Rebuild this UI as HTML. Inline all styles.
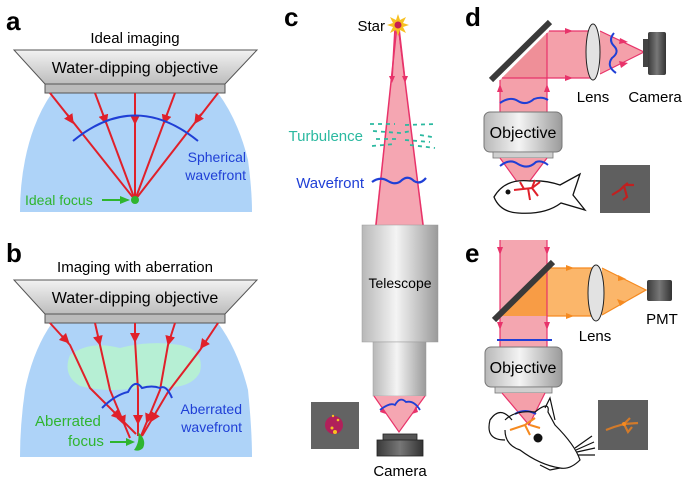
<!DOCTYPE html>
<html><head><meta charset="utf-8"><style>
html,body{margin:0;padding:0;background:#fff;}
svg{display:block;font-family:"Liberation Sans",Arial,sans-serif;}
</style></head><body>
<svg width="685" height="480" viewBox="0 0 685 480" xmlns="http://www.w3.org/2000/svg">
<defs>
<linearGradient id="obj" x1="0" y1="0" x2="0" y2="1"><stop offset="0" stop-color="#f2f2f2"/><stop offset="1" stop-color="#bdbdbd"/></linearGradient>
<linearGradient id="tube" x1="0" y1="0" x2="1" y2="0"><stop offset="0" stop-color="#b8b8b8"/><stop offset="0.45" stop-color="#f4f4f4"/><stop offset="1" stop-color="#9a9a9a"/></linearGradient>
<linearGradient id="cam" x1="0" y1="0" x2="1" y2="0"><stop offset="0" stop-color="#3a3a3a"/><stop offset="0.5" stop-color="#777"/><stop offset="1" stop-color="#333"/></linearGradient>
<marker id="ar" viewBox="0 0 10 10" refX="5" refY="5" markerWidth="5" markerHeight="5" orient="auto"><path d="M0,0 L10,5 L0,10z" fill="#e0202a"/></marker>
</defs>

<!-- Panel a -->
<text x="6" y="30" font-size="26" font-weight="bold">a</text>
<text x="135" y="43" font-size="15" text-anchor="middle">Ideal imaging</text>
<path d="M52,93 L218,93 Q238,120 248,160 Q252,190 252,212 L20,212 Q20,185 25,160 Q33,120 52,93z" fill="#aed3f8"/>
<path d="M14,50 L257,50 L225,84 L45,84z" fill="url(#obj)" stroke="#555" stroke-width="1"/>
<rect x="45" y="84" width="180" height="9" fill="#bbb" stroke="#555" stroke-width="1"/>
<text x="135" y="73" font-size="16" text-anchor="middle">Water-dipping objective</text>
<g stroke="#e0202a" stroke-width="2" fill="none">
<path d="M50,93 L135,200"/><path d="M95,93 L135,200"/><path d="M135,93 L135,200"/><path d="M175,93 L135,200"/><path d="M218,93 L135,200"/>
<path d="M67,114 L71,120" marker-end="url(#ar)"/>
<path d="M103,114 L105,120" marker-end="url(#ar)"/>
<path d="M135,114 L135,120" marker-end="url(#ar)"/>
<path d="M167,114 L165,120" marker-end="url(#ar)"/>
<path d="M201,114 L197,120" marker-end="url(#ar)"/>
</g>
<path d="M73,141 Q135,90 198,141" stroke="#1f3fd6" stroke-width="2" fill="none"/>
<text x="246" y="162" font-size="14" fill="#1f3fd6" text-anchor="end">Spherical</text>
<text x="246" y="180" font-size="14" fill="#1f3fd6" text-anchor="end">wavefront</text>
<text x="25" y="205" font-size="14" fill="#2fb52f">Ideal focus</text>
<path d="M102,200 L122,200" stroke="#2fb52f" stroke-width="2"/><path d="M120,196 L130,200 L120,204z" fill="#2fb52f"/>
<circle cx="135" cy="200" r="4" fill="#2fb52f"/>

<!-- Panel b -->
<text x="6" y="262" font-size="26" font-weight="bold">b</text>
<text x="135" y="272" font-size="15" text-anchor="middle">Imaging with aberration</text>
<path d="M52,323 L218,323 Q238,350 248,390 Q252,430 252,457 L20,457 Q20,425 25,390 Q33,350 52,323z" fill="#aed3f8"/>
<path d="M70,355 Q90,340 120,348 Q150,340 180,345 Q205,350 200,372 Q190,392 150,386 Q110,394 80,386 Q62,375 70,355z" fill="#b6efd4"/>
<path d="M14,280 L257,280 L225,314 L45,314z" fill="url(#obj)" stroke="#555" stroke-width="1"/>
<rect x="45" y="314" width="180" height="9" fill="#bbb" stroke="#555" stroke-width="1"/>
<text x="135" y="303" font-size="16" text-anchor="middle">Water-dipping objective</text>
<g stroke="#e0202a" stroke-width="2" fill="none">
<path d="M50,323 L70,345 L90,388 L136,434"/>
<path d="M95,323 L100,345 L110,390 L130,438"/>
<path d="M135,323 L135,340 L138,390 L138,436"/>
<path d="M175,323 L168,345 L160,390 L141,436"/>
<path d="M218,323 L200,350 L168,392 L142,436"/>
<path d="M62,336 L66,340" marker-end="url(#ar)"/>
<path d="M98,337 L99,341" marker-end="url(#ar)"/>
<path d="M135,333 L135,338" marker-end="url(#ar)"/>
<path d="M170,337 L169,341" marker-end="url(#ar)"/>
<path d="M206,341 L203,345" marker-end="url(#ar)"/>
<path d="M114,412 L118,416" marker-end="url(#ar)"/>
<path d="M121,416 L123,421" marker-end="url(#ar)"/>
<path d="M138,414 L138,420" marker-end="url(#ar)"/>
<path d="M150,414 L148,419" marker-end="url(#ar)"/>
<path d="M156,413 L153,418" marker-end="url(#ar)"/>
</g>
<path d="M102,408 Q115,395 128,392 Q135,378 142,388 Q152,385 160,388 Q166,384 172,398" stroke="#1f3fd6" stroke-width="2" fill="none"/>
<text x="242" y="414" font-size="14" fill="#1f3fd6" text-anchor="end">Aberrated</text>
<text x="242" y="432" font-size="14" fill="#1f3fd6" text-anchor="end">wavefront</text>
<text x="35" y="426" font-size="15" fill="#2fb52f">Aberrated</text>
<text x="68" y="446" font-size="15" fill="#2fb52f">focus</text>
<path d="M110,442 L128,442" stroke="#2fb52f" stroke-width="2"/><path d="M126,438 L135,442 L126,446z" fill="#2fb52f"/>
<path d="M138,432 Q147,440 143,448 Q139,452 134,450 Q140,442 138,432z" fill="#2fb52f"/>

<!-- Panel c -->
<text x="284" y="26" font-size="26" font-weight="bold">c</text>
<text x="385" y="31" font-size="15" text-anchor="end">Star</text>
<path d="M397,25 L375,225 L424,225z" fill="#f5a6b2"/>
<path d="M397,25 L376,225 M398,25 L423,225" stroke="#e8336a" stroke-width="1.5"/>
<path d="M395,28 L392,80 M399,28 L405,80" stroke="#e8336a" stroke-width="1.5"/>
<path d="M389,76 L395,76 L392,83z M402,76 L408,76 L405,83z" fill="#e8336a"/>
<path d="M398,14 L400,20 L406,17 L403,23 L409,25 L403,27 L406,33 L400,30 L398,36 L396,30 L390,33 L393,27 L387,25 L393,23 L390,17 L396,20z" fill="#f7c020"/>
<circle cx="398" cy="25" r="3.5" fill="#c81e50"/>
<g stroke="#2bb9a0" stroke-width="1.8" stroke-dasharray="4,4" fill="none">
<path d="M370,124 L395,124 M405,125 L437,124"/>
<path d="M373,131 L400,133 L412,131 M420,135 L432,137"/>
<path d="M376,139 L398,139 M405,140 L430,142"/>
<path d="M372,146 L395,144 M410,145 L435,148"/>
</g>
<text x="363" y="141" font-size="15" fill="#2bb9a0" text-anchor="end">Turbulence</text>
<text x="364" y="188" font-size="15" fill="#1f3fd6" text-anchor="end">Wavefront</text>
<path d="M372,182 Q380,176 388,181 Q396,186 402,180 Q408,175 414,181 Q420,185 426,178" stroke="#1f3fd6" stroke-width="2.2" fill="none"/>
<rect x="362" y="225" width="76" height="117" fill="url(#tube)" stroke="#999" stroke-width="0.5"/>
<text x="400" y="288" font-size="14" text-anchor="middle">Telescope</text>
<rect x="373" y="342" width="53" height="54" fill="url(#tube)" stroke="#999" stroke-width="0.5"/>
<path d="M374,396 L425,396 L399,432z" fill="#f5a6b2"/>
<path d="M374,396 L399,432 L425,396" stroke="#e8336a" stroke-width="1.2" fill="none"/>
<path d="M380,412 L386,414 L382,406z M418,412 L412,414 L416,406z" fill="#e8336a"/>
<path d="M380,410 Q390,402 395,405 Q400,396 406,402 Q414,400 420,410" stroke="#1f3fd6" stroke-width="1.8" fill="none"/>
<rect x="383" y="434" width="34" height="7" fill="#555" stroke="#222" stroke-width="0.8"/>
<rect x="377" y="440" width="46" height="16" fill="url(#cam)" stroke="#222" stroke-width="0.8"/>
<text x="400" y="476" font-size="15" text-anchor="middle">Camera</text>
<rect x="311" y="402" width="48" height="47" fill="#636363"/>
<circle cx="334" cy="425" r="9" fill="#b0205a"/>
<circle cx="332" cy="428" r="1.5" fill="#f7c020"/><circle cx="338" cy="420" r="1.3" fill="#f7c020"/><circle cx="335" cy="432" r="2" fill="#f7c020"/><circle cx="333" cy="416" r="1.2" fill="#f7c020"/>

<!-- Panel d -->
<text x="465" y="26" font-size="26" font-weight="bold">d</text>
<path d="M500,80 L547,33 L547,140 L500,140z" fill="#f4a0aa"/>
<path d="M549,31 L590,31 L590,78 L502,78z" fill="#f4a0aa"/>
<path d="M547,33 L547,78 L502,78z" fill="#ec8890" opacity="0.7"/>
<path d="M600,31 L644,52 L600,74z" fill="#f4a0aa"/>
<g stroke="#e8336a" stroke-width="1.2" fill="none">
<path d="M500,140 L500,80 M502,78 L590,78"/><path d="M547,140 L547,33 M549,31 L590,31"/>
<path d="M600,31 L644,52 L600,74"/>
</g>
<path d="M497,92 L500,84 L503,92z M544,92 L547,84 L550,92z M565,28 L573,31 L565,34z M565,75 L573,78 L565,81z M620,38 L628,42 L619,44z M619,61 L628,63 L621,68z" fill="#e8336a"/>
<path d="M491,80 L550,22" stroke="#3a3a3a" stroke-width="6"/>
<ellipse cx="593" cy="52" rx="7" ry="28" fill="#e2e2e2" stroke="#222" stroke-width="1"/>
<path d="M614,33 Q608,40 614,46 Q620,52 612,58 Q606,66 616,73" stroke="#1f3fd6" stroke-width="2" fill="none"/>
<rect x="643" y="39" width="6" height="28" fill="#444"/>
<rect x="648" y="32" width="18" height="43" rx="2" fill="url(#cam)"/>
<text x="593" y="102" font-size="15" text-anchor="middle">Lens</text>
<text x="655" y="102" font-size="15" text-anchor="middle">Camera</text>
<path d="M500,103 Q510,96 518,101 Q526,106 534,99 Q542,96 548,100" stroke="#1f3fd6" stroke-width="2" fill="none"/>
<rect x="484" y="112" width="78" height="40" rx="6" fill="url(#tube)" stroke="#777" stroke-width="1"/>
<text x="523" y="138" font-size="16" text-anchor="middle">Objective</text>
<rect x="493" y="152" width="60" height="6" fill="#cfcfcf" stroke="#777" stroke-width="0.8"/>
<path d="M500,158 L547,158 L523,190z" fill="#f4a0aa"/>
<path d="M500,158 L523,190 L547,158" stroke="#e8336a" stroke-width="1.2" fill="none"/>
<path d="M500,166 Q510,158 518,164 Q528,170 536,162 Q542,160 548,165" stroke="#1f3fd6" stroke-width="2" fill="none"/>
<path d="M494,197 Q505,178 530,181 Q545,180 560,185 L580,174 L573,195 L585,210 L561,203 Q545,215 518,213 Q500,212 494,197z" fill="#fff" stroke="#111" stroke-width="1.3"/>
<circle cx="508" cy="192" r="2.5" fill="#111"/>
<g stroke="#e0202a" stroke-width="2" fill="none"><path d="M514,190 L532,188 L540,182 M528,188 L530,200 M532,188 L538,196 M524,189 L520,182 M532,188 L535,180"/></g>
<rect x="600" y="165" width="50" height="48" fill="#5f5f5f"/>
<path d="M612,195 L620,190 L624,186 L628,183 M624,186 L627,197 L623,200 M625,185 L634,185" stroke="#c02020" stroke-width="2.2" fill="none"/>

<!-- Panel e -->
<text x="465" y="262" font-size="26" font-weight="bold">e</text>
<rect x="500" y="240" width="47" height="107" fill="#f4a6b0"/>
<path d="M548,268 L595,268 L595,316 L500,316 L500,316z" fill="#fbb66a"/>
<path d="M547,268 L547,316 L500,316z" fill="#f7963c" opacity="0.8"/>
<path d="M602,268 L646,290 L602,315z" fill="#fbb66a"/>
<g stroke="#f58a20" stroke-width="1.2" fill="none"><path d="M547,268 L595,268 M547,316 L595,316 M602,268 L646,290 L602,315"/></g>
<g stroke="#e8336a" stroke-width="1.2"><path d="M500,240 L500,347 M547,240 L547,347"/></g>
<path d="M497,247 L500,255 L503,247z M544,247 L547,255 L550,247z M497,322 L500,330 L503,322z M544,322 L547,330 L550,322z" fill="#e8336a"/>
<path d="M566,265 L574,268 L566,271z M566,313 L574,316 L566,319z M618,275 L626,279 L618,281z M617,299 L626,302 L620,306z" fill="#f58a20"/>
<path d="M494,320 L553,262" stroke="#3a3a3a" stroke-width="6"/>
<ellipse cx="596" cy="293" rx="8" ry="28" fill="#e2e2e2" stroke="#222" stroke-width="1"/>
<rect x="647" y="280" width="25" height="21" rx="2" fill="url(#cam)"/>
<text x="662" y="324" font-size="15" text-anchor="middle">PMT</text>
<text x="595" y="341" font-size="15" text-anchor="middle">Lens</text>
<path d="M497,340 L552,340" stroke="#1f3fd6" stroke-width="2"/>
<rect x="485" y="347" width="77" height="40" rx="6" fill="url(#tube)" stroke="#777" stroke-width="1"/>
<text x="523" y="373" font-size="16" text-anchor="middle">Objective</text>
<rect x="495" y="387" width="57" height="6" fill="#cfcfcf" stroke="#777" stroke-width="0.8"/>
<path d="M502,393 L545,393 L529,425z" fill="#f4a0aa"/>
<path d="M502,393 L529,425 L545,393" stroke="#e8336a" stroke-width="1.2" fill="none"/>
<path d="M515,414 Q525,408 536,414" stroke="#1f3fd6" stroke-width="2" fill="none"/>
<g stroke="#111" stroke-width="1.2" fill="none">
<path d="M512,420 Q500,405 490,420 Q485,440 505,440"/>
<path d="M505,420 Q515,410 535,412 Q550,400 548,412 L555,425 Q575,445 580,460 Q570,470 560,468 Q540,465 520,450 Q505,445 505,430"/>
<path d="M545,408 L550,398 L555,420"/>
<path d="M575,448 L592,436 M576,450 L594,442 M577,452 L595,448 M578,455 L595,455"/>
<path d="M540,465 L550,470 L560,468"/>
</g>
<circle cx="538" cy="438" r="4.5" fill="#111"/>
<path d="M510,430 L525,425 L535,418 M525,425 L530,435 M530,425 L540,428" stroke="#f58a20" stroke-width="2" fill="none"/>
<rect x="598" y="400" width="50" height="50" fill="#5f5f5f"/>
<path d="M606,430 L614,427 L624,424 L630,418 M624,424 L628,432 L632,427 M624,424 L638,423" stroke="#d27a2a" stroke-width="2.2" fill="none"/>
<circle cx="624" cy="424" r="2" fill="#f58a20"/>
</svg>
</body></html>
